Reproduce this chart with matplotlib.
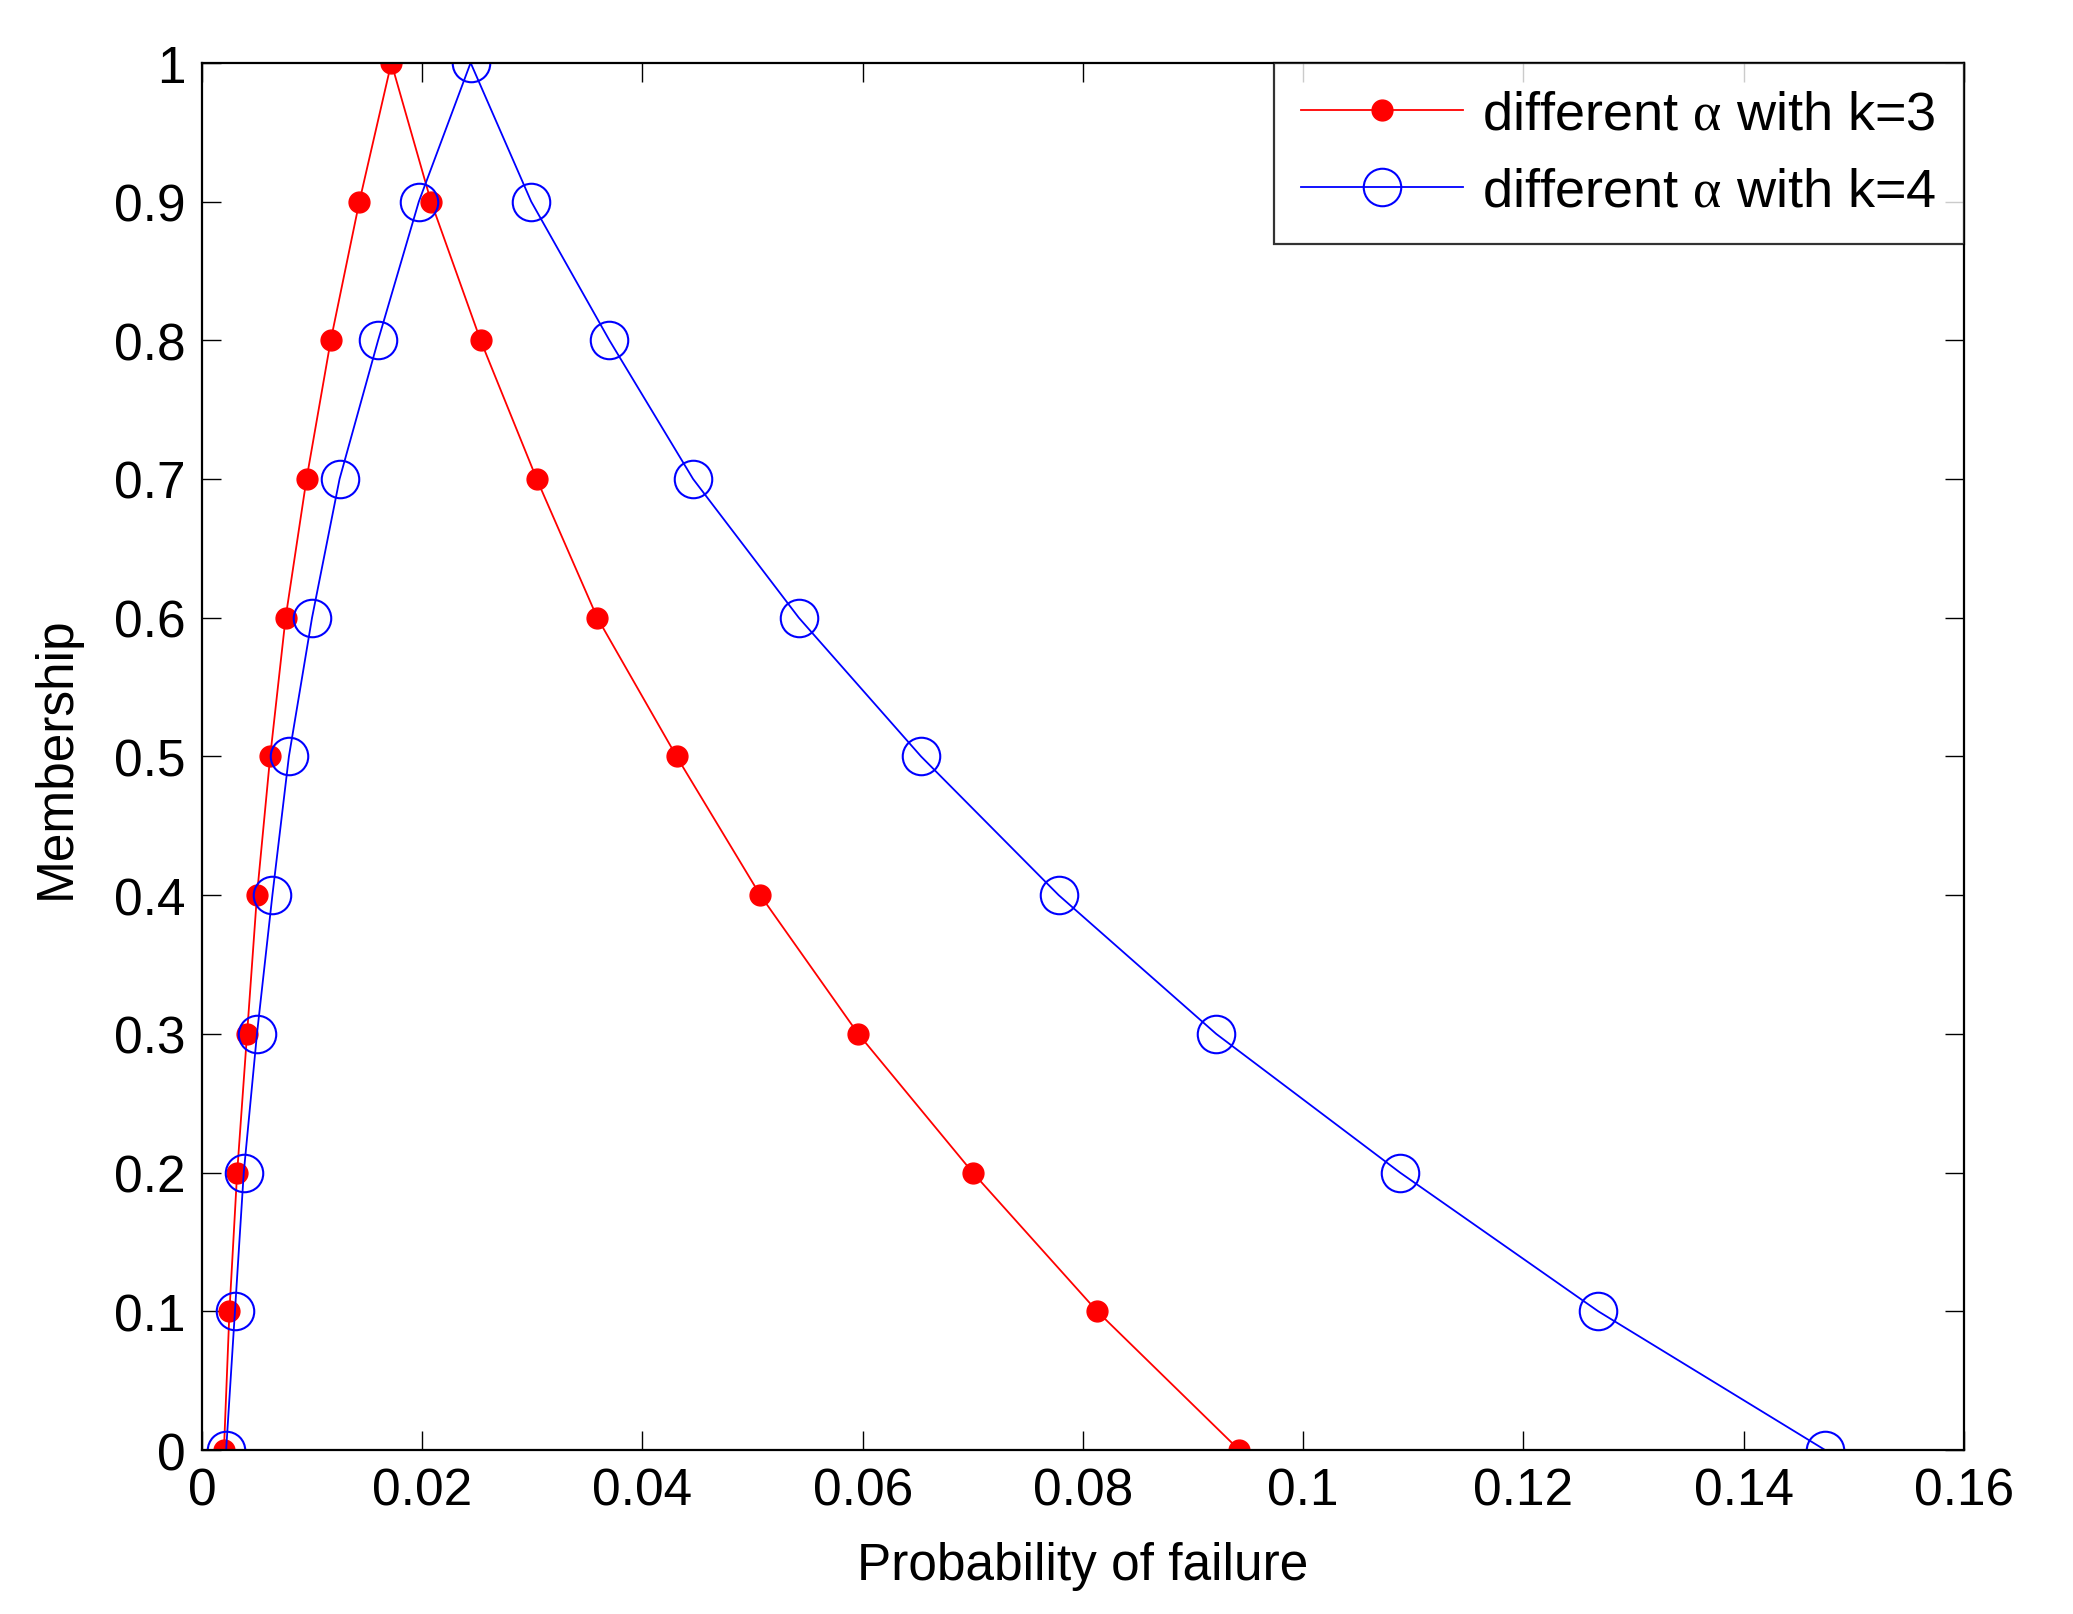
import matplotlib
matplotlib.use('Agg')
from matplotlib import pyplot as plt
from matplotlib.ticker import FuncFormatter

# membership levels (alpha cuts)
mu_up = [0, 0.1, 0.2, 0.3, 0.4, 0.5, 0.6, 0.7, 0.8, 0.9, 1.0]
mu_down = [0.9, 0.8, 0.7, 0.6, 0.5, 0.4, 0.3, 0.2, 0.1, 0]

# probability of failure, k=3
pf3_up = [0.0020, 0.0025, 0.0032, 0.0041, 0.0050, 0.0062, 0.0076, 0.0095, 0.0117, 0.0143, 0.0172]
pf3_down = [0.0208, 0.0253, 0.0304, 0.0359, 0.0431, 0.0507, 0.0596, 0.0700, 0.0813, 0.0942]

# probability of failure, k=4
pf4_up = [0.0022, 0.0030, 0.0038, 0.0050, 0.0064, 0.0079, 0.0100, 0.0125, 0.0160, 0.0197, 0.0244]
pf4_down = [0.0299, 0.0370, 0.0446, 0.0542, 0.0653, 0.0778, 0.0921, 0.1088, 0.1268, 0.1474]

plt.rcParams['font.family'] = ['Liberation Sans', 'DejaVu Sans']
plt.rcParams['mathtext.fontset'] = 'custom'
plt.rcParams['mathtext.rm'] = 'Liberation Serif'
plt.rcParams['mathtext.it'] = 'Liberation Serif:italic'

fig = plt.figure(figsize=(20.73, 16.15), dpi=100)
ax = fig.add_axes([0.0974, 0.1015, 0.850, 0.859])

ax.plot(pf3_up + pf3_down, mu_up + mu_down, '-o', color='red', lw=1.3,
        ms=15, mfc='red', mec='red', label=r'different $\mathrm{\alpha}$ with k=3')
ax.plot(pf4_up + pf4_down, mu_up + mu_down, '-o', color='blue', lw=1.3,
        ms=27, mfc='none', mec='blue', mew=1.5, label=r'different $\mathrm{\alpha}$ with k=4')

ax.set_xlim(0, 0.16)
ax.set_ylim(0, 1)
ax.set_xticks([0, 0.02, 0.04, 0.06, 0.08, 0.1, 0.12, 0.14, 0.16])
ax.set_yticks([0, 0.1, 0.2, 0.3, 0.4, 0.5, 0.6, 0.7, 0.8, 0.9, 1])
fmt = FuncFormatter(lambda v, p: ('%g' % round(v, 4)))
ax.xaxis.set_major_formatter(fmt)
ax.yaxis.set_major_formatter(fmt)

ax.tick_params(direction='in', top=True, right=True, length=14, width=1.0,
               labelsize=37, pad=12)
for s in ax.spines.values():
    s.set_linewidth(1.6)

ax.set_xlabel('Probability of failure', fontsize=37, labelpad=18)
ax.set_ylabel('Membership', fontsize=37, labelpad=24)

leg = ax.legend(loc='upper right', fontsize=39, frameon=True, fancybox=False,
                edgecolor='black', borderaxespad=0, handlelength=3.0,
                borderpad=0.5, labelspacing=0.5, handletextpad=0.35)
leg.get_frame().set_linewidth(1.6)

plt.savefig('out.png', dpi=100)
plt.close()
